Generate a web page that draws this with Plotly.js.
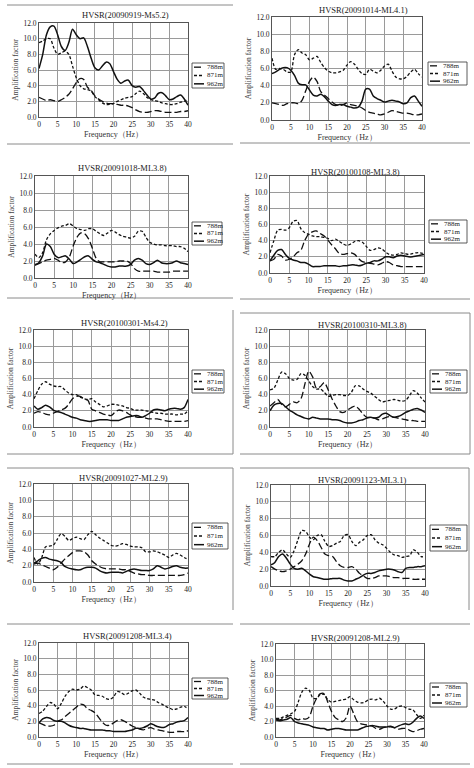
<!DOCTYPE html>
<html><head><meta charset="utf-8">
<script src="https://cdn.plot.ly/plotly-3.0.1.min.js"></script>
<style>html,body{margin:0;padding:0;background:#fff}#chart{width:474px;height:768px}</style>
</head><body><div id="chart"></div>
<script>
const freq = [0,1,2,3,4,5,6,7,8,9,10,11,12,13,14,15,16,17,18,19,20,21,22,23,24,25,26,27,28,29,30,31,32,33,34,35,36,37,38,39,40];
const seriesNames = ['788m','871m','962m'];
const titles = ['HVSR(20090919-Ms5.2)','HVSR(20091014-ML4.1)','HVSR(20091018-ML3.8)','HVSR(20100108-ML3.8)','HVSR(20100301-Ms4.2)','HVSR(20100310-ML3.8)','HVSR(20091027-ML2.9)','HVSR(20091123-ML3.1)','HVSR(20091208-ML3.4)','HVSR(20091208-ML2.9)'];
const xTickVals = [0,5,10,15,20,25,30,35,40];
const yTickVals = [0,2,4,6,8,10,12];

const p1_788 = [2.5,2.3,2.1,2.2,2.1,2.0,2.2,2.5,2.9,3.6,4.4,4.9,4.8,3.8,3.4,2.7,2.3,2.0,1.8,1.7,1.7,1.6,1.5,1.5,1.4,1.2,0.9,0.7,0.6,0.6,0.7,0.8,0.8,0.7,0.6,0.6,0.6,0.6,0.7,0.7,0.8];
const p1_871 = [9.5,9.7,10.0,10.0,8.8,8.0,8.2,8.4,8.0,6.5,5.0,4.0,3.6,3.5,3.3,2.6,2.2,1.8,1.6,1.6,1.7,2.0,2.2,2.4,2.5,2.6,3.0,3.3,3.0,2.5,2.2,2.1,2.0,1.8,1.7,1.6,1.6,1.7,1.9,2.0,2.3];
const p1_962 = [6.2,8.0,10.5,11.5,11.6,10.5,9.0,8.5,9.5,11.2,10.5,10.0,10.1,9.0,7.5,6.3,6.0,6.5,7.0,6.8,5.8,4.8,4.3,4.6,4.7,4.0,3.8,3.9,3.4,2.8,2.3,2.4,3.0,3.1,2.7,2.2,2.3,2.6,2.8,2.3,1.5];

const p2_788 = [2.0,1.9,1.8,1.7,1.9,2.0,2.0,1.9,2.3,3.4,4.5,5.0,4.5,3.3,2.9,2.5,2.1,1.8,1.7,1.8,2.0,1.8,1.7,1.6,1.4,1.1,0.9,0.8,0.7,0.6,0.7,0.9,1.1,1.0,0.9,0.8,0.8,0.7,0.6,0.6,0.7];
const p2_871 = [7.2,5.9,6.0,5.9,5.6,5.6,7.6,8.2,7.8,7.6,7.0,7.2,7.4,6.7,6.1,5.7,5.5,5.5,5.6,5.8,6.4,6.8,6.5,5.9,5.4,5.3,5.9,5.7,5.5,5.8,6.3,6.5,5.7,5.0,4.8,4.8,5.1,5.6,5.9,5.4,5.0];
const p2_962 = [5.4,5.6,5.9,6.1,6.1,5.8,5.2,4.3,4.1,4.1,3.5,2.9,2.8,3.0,2.7,2.2,1.8,1.7,1.8,1.8,1.6,1.5,1.4,1.5,2.2,3.6,3.6,2.8,2.5,2.3,2.1,2.2,2.3,2.2,2.1,1.9,2.0,2.6,2.8,2.2,1.6];

const p3_788 = [1.6,1.7,1.9,2.1,2.2,2.3,2.1,1.8,1.9,2.5,3.8,4.8,5.3,5.2,4.6,3.5,2.3,1.9,1.9,1.9,1.9,1.9,2.0,2.0,2.0,1.7,1.1,0.8,0.8,0.8,0.8,0.8,0.7,0.7,0.7,0.7,0.8,0.8,0.8,0.8,0.8];
const p3_871 = [2.8,2.4,3.0,4.5,5.2,5.6,5.9,6.1,6.2,6.4,6.1,5.8,5.7,5.6,5.8,5.8,5.5,5.2,5.0,5.3,5.6,5.4,5.1,4.9,4.8,4.7,4.9,5.5,5.5,4.8,4.2,4.0,3.9,3.9,3.8,3.8,3.8,3.7,3.7,3.5,3.1];
const p3_962 = [1.5,1.8,2.6,4.0,3.7,2.8,2.4,2.5,2.6,2.2,1.7,1.9,2.2,2.5,2.6,2.2,1.9,1.8,1.6,1.4,1.3,1.3,1.4,1.4,1.4,1.6,2.1,2.3,2.1,1.7,1.6,1.8,2.1,1.8,1.7,1.7,1.8,2.0,1.8,1.7,1.6];

const p4_788 = [1.5,1.7,2.3,2.1,1.6,1.7,2.0,2.5,2.8,4.0,4.8,5.1,5.2,4.9,4.6,4.1,3.5,3.0,2.4,2.3,2.4,2.5,2.3,1.8,1.4,1.3,1.2,1.1,1.0,1.2,1.4,1.3,1.0,0.9,0.8,0.8,0.8,0.8,0.8,0.8,0.8];
const p4_871 = [2.5,4.0,5.3,5.4,5.3,5.6,6.4,6.5,5.5,5.0,4.8,4.6,4.5,4.5,4.4,4.3,4.0,4.2,3.9,3.6,3.4,3.6,3.9,4.0,3.8,3.3,2.8,2.9,3.1,3.0,2.6,2.3,2.2,2.3,2.5,2.4,2.3,2.4,2.5,2.5,2.4];
const p4_962 = [1.5,2.2,2.8,2.9,2.3,1.8,1.6,1.5,1.3,1.3,1.1,0.8,0.8,0.8,0.9,0.9,0.9,0.9,0.8,0.9,0.9,1.0,1.0,0.9,1.0,1.2,1.3,1.5,1.5,1.7,2.0,2.0,1.9,2.1,2.2,2.1,2.0,2.0,2.1,2.2,2.3];

const p5_788 = [1.7,1.9,1.8,1.6,1.5,1.7,1.9,2.1,2.3,2.8,3.5,3.8,3.8,3.5,3.3,2.2,2.0,1.8,1.6,1.5,1.4,1.8,2.1,2.0,1.8,1.5,1.3,1.2,1.2,1.1,1.0,1.0,1.0,0.9,0.8,0.7,0.7,0.7,0.7,0.7,0.8];
const p5_871 = [3.5,4.5,5.3,5.6,5.3,5.1,5.0,5.0,4.6,4.2,4.0,4.0,3.7,3.5,3.4,3.5,3.1,2.8,2.5,2.6,2.8,2.8,2.7,2.6,2.4,2.3,2.1,2.1,2.1,2.0,1.9,1.8,1.7,1.7,1.6,1.6,1.6,1.5,1.6,1.6,2.0];
const p5_962 = [2.6,2.2,2.4,2.7,2.5,2.1,1.9,1.8,1.6,1.4,1.2,1.1,0.9,0.8,0.7,0.7,0.8,0.9,0.9,0.9,0.8,0.8,0.8,1.0,1.2,1.3,1.4,1.4,1.2,1.4,1.7,2.1,2.2,2.1,2.0,2.2,2.3,2.3,2.2,2.4,3.4];

const p6_788 = [2.6,3.0,3.4,2.8,2.5,2.8,3.1,3.0,3.5,5.3,6.9,6.2,4.8,5.0,5.5,4.6,3.5,2.6,1.9,1.8,2.1,2.4,2.6,2.2,1.6,1.2,1.2,1.1,0.9,1.0,1.2,1.3,1.2,1.1,1.0,0.9,0.8,0.8,0.7,0.7,0.7];
const p6_871 = [4.6,4.8,5.8,6.8,6.6,6.0,5.8,5.9,6.6,6.4,5.7,5.0,4.7,4.7,4.3,3.8,3.9,4.0,4.0,3.9,3.9,4.3,5.1,5.1,4.7,4.4,4.2,3.8,3.4,3.1,3.2,3.3,3.4,3.3,3.2,3.3,3.9,4.5,4.2,3.6,3.1];
const p6_962 = [2.0,2.7,2.9,2.9,2.5,2.1,1.8,1.5,1.3,1.1,1.0,1.2,1.1,1.0,1.0,1.0,0.9,0.9,0.8,0.6,0.5,0.5,0.6,0.8,0.9,1.1,1.2,1.1,1.2,1.6,1.7,1.4,1.2,1.3,1.5,1.8,2.0,2.2,2.3,2.1,1.8];

const p7_788 = [2.2,2.3,2.1,1.9,1.7,1.5,1.8,2.3,2.8,3.2,3.6,3.8,3.8,3.7,3.3,2.6,2.2,1.9,1.7,1.6,1.6,1.6,1.6,1.5,1.5,1.3,1.1,1.0,0.9,0.9,0.8,0.8,0.8,0.8,0.8,0.8,0.8,0.8,0.8,0.9,1.1];
const p7_871 = [3.0,2.2,3.0,4.3,4.4,4.5,5.2,5.9,5.6,5.1,5.3,5.5,5.3,5.2,5.8,6.2,5.8,5.4,5.1,4.8,4.5,4.4,4.5,4.7,4.6,4.4,4.3,4.3,4.2,3.7,3.7,3.8,3.7,3.5,3.3,3.0,3.3,3.5,3.3,3.0,2.8];
const p7_962 = [2.3,2.6,2.9,3.0,2.8,2.7,2.6,2.4,1.9,1.7,1.6,1.5,1.5,1.7,1.8,1.8,1.7,1.4,1.2,1.1,1.2,1.2,1.2,1.1,1.3,1.5,1.6,1.5,1.4,1.4,1.4,1.6,2.0,1.8,1.6,1.7,1.9,2.0,1.8,1.7,1.7];

const p8_788 = [2.3,2.0,1.8,1.7,1.8,2.0,2.3,2.6,3.0,3.8,5.0,5.8,5.4,4.6,3.8,3.6,3.5,2.9,2.4,2.2,2.2,2.3,2.0,1.5,1.2,0.9,0.9,1.0,1.2,1.2,1.2,1.1,1.0,1.0,0.9,0.9,0.9,0.8,0.8,0.8,0.8];
const p8_871 = [3.5,3.5,4.0,4.3,3.8,3.4,4.2,5.5,6.6,6.5,5.8,5.5,6.0,6.1,5.3,4.7,4.8,5.1,5.3,6.0,6.1,5.3,4.8,5.2,5.5,6.0,6.1,5.5,5.1,4.9,4.5,4.0,3.7,3.6,3.4,3.5,3.6,4.3,4.0,3.5,3.5];
const p8_962 = [2.5,2.8,3.5,3.8,3.3,2.6,2.1,2.0,2.1,1.8,1.4,1.1,1.0,0.9,0.8,0.8,0.9,0.9,0.9,0.7,0.6,0.6,0.8,1.0,1.3,1.5,1.5,1.6,1.8,1.9,2.0,2.0,1.9,1.7,1.6,2.1,2.2,2.2,2.3,2.3,2.4];

const p9_788 = [1.8,1.6,1.4,1.4,1.5,2.0,2.2,2.6,3.0,3.4,3.8,4.2,4.1,3.6,3.4,3.1,2.5,1.9,1.5,1.5,1.8,2.1,2.2,2.0,1.7,1.4,1.2,1.0,0.9,1.1,1.2,1.0,0.9,0.8,0.7,0.6,0.6,0.7,0.7,0.7,0.8];
const p9_871 = [3.0,3.3,3.9,4.4,4.2,3.6,4.3,5.2,5.8,6.1,6.0,6.1,6.5,6.3,6.0,5.4,5.3,5.2,4.9,4.8,5.1,5.8,5.7,5.4,5.6,5.9,6.0,5.6,5.1,4.9,4.8,4.7,4.4,4.2,3.9,3.7,3.5,3.6,3.8,3.9,3.6];
const p9_962 = [1.8,2.3,2.5,2.4,2.1,2.0,2.0,1.8,1.5,1.3,1.2,1.1,1.1,1.0,0.9,0.9,0.9,0.9,0.8,0.8,0.7,0.7,0.7,0.7,0.8,0.9,1.1,1.1,1.2,1.4,1.7,1.5,1.3,1.2,1.3,1.6,1.7,1.9,2.0,2.1,2.5];

const p10_788 = [2.3,2.2,2.4,2.6,2.8,2.4,2.2,2.4,2.3,2.6,4.0,5.0,5.6,5.6,4.5,3.3,2.5,2.2,2.0,2.5,4.0,3.0,2.0,1.7,1.6,1.5,1.4,1.1,1.0,1.2,1.3,1.3,1.2,1.0,1.1,1.1,0.9,0.7,0.8,1.0,1.1];
const p10_871 = [2.4,2.4,2.6,2.8,3.0,3.3,4.5,5.8,6.3,6.0,5.0,5.0,5.5,5.5,4.8,4.5,4.6,4.7,4.8,4.9,5.2,4.8,4.5,4.4,4.5,4.8,4.9,4.8,5.0,4.6,4.0,3.6,3.6,3.9,4.0,3.8,3.6,3.5,2.9,2.4,2.8];
const p10_962 = [2.2,2.1,2.2,2.3,2.5,2.0,1.8,1.7,1.6,1.5,1.3,1.2,1.1,1.1,0.9,1.0,1.1,1.1,1.0,0.9,0.9,0.9,0.9,1.1,1.3,1.4,1.5,1.4,1.3,1.3,1.3,1.4,1.2,1.4,1.6,1.7,1.6,1.9,2.4,2.7,2.4];

const panelSeries = [
  [p1_788,p1_871,p1_962],[p2_788,p2_871,p2_962],[p3_788,p3_871,p3_962],[p4_788,p4_871,p4_962],
  [p5_788,p5_871,p5_962],[p6_788,p6_871,p6_962],[p7_788,p7_871,p7_962],[p8_788,p8_871,p8_962],
  [p9_788,p9_871,p9_962],[p10_788,p10_871,p10_962]
];

// layout geometry in pixels: plot box [x0,x1,yTop,yBottom], title centre [x,y], legend box [x0,x1,y0,y1]
const W = 474, H = 768;
const boxes = [[39,188,23,117],[272,422,17,120],[35,188,176,278],[270,424,176,273],[34,188,330,427],
               [270,425,330,427],[34,188,484,582],[271,425,485,586],[39,188,643,737],[276,424,644,737]];
const titlePos = [[126,15],[363,10],[122,168],[355,172],[124,323],[362,325],[123,478],[362,480],[127,636],[355,638]];
const legBoxes = [[192,224,63,88],[428,467,62,85],[192,222,222,245],[429,467,220,243],[192,224,370,393],
                  [430,467,370,393],[192,228,523,549],[430,467,525,551],[192,228,678,699],[430,467,683,707]];
const frameLines = [[7,233,5,5],[7,233,144,144],[240,470,143,143],[7,233,298,298],[240,470,299,299],
                    [7,233,454,454],[233,233,310,454],[240,470,313,313],[240,470,454,454],[470,470,313,454],
                    [7,233,468,468],[233,233,468,610],[240,469,468,468],[469,469,468,610],
                    [7,233,624,624],[7,233,764,764],[240,470,624,624],[240,470,764,764]];

const FONT = '"Liberation Serif","Times New Roman",serif';
const styles = [
  {dash:'7px,3px', width:1.3},
  {dash:'3px,2px', width:1.3},
  {dash:'solid', width:1.5}
];
const px = v => v / W;
const py = v => 1 - v / H;

const traces = [];
const layout = {
  width: W, height: H, margin:{l:0,r:0,t:0,b:0}, showlegend:false,
  paper_bgcolor:'#fff', plot_bgcolor:'#fff', font:{family:FONT, color:'#222', size:7},
  shapes:[], annotations:[]
};

panelSeries.forEach((series, i) => {
  const n = i === 0 ? '' : String(i+1);
  const b = boxes[i];
  series.forEach((vals, k) => {
    traces.push({
      x: freq, y: vals, type:'scatter', mode:'lines', name: seriesNames[k],
      xaxis:'x'+n, yaxis:'y'+n, hoverinfo:'x+y+name',
      line:{color:'#111', width:styles[k].width, dash:styles[k].dash, shape:'spline', smoothing:0.8}
    });
  });
  layout['xaxis'+n] = {
    domain:[px(b[0]), px(b[1])], anchor:'y'+n, range:[0,40], tickvals:xTickVals,
    showgrid:true, gridcolor:'#9a9a9a', gridwidth:0.8, zeroline:false,
    showline:true, mirror:true, linecolor:'#555', linewidth:0.8, ticks:'',
    tickfont:{family:FONT, size:7.5, color:'#222'},
    title:{text:'Frequency（Hz）', font:{family:FONT, size:8, color:'#333'}, standoff:3}
  };
  layout['yaxis'+n] = {
    domain:[py(b[3]), py(b[2])], anchor:'x'+n, range:[0,12], tickvals:yTickVals, tickformat:'.1f',
    showgrid:true, gridcolor:'#9a9a9a', gridwidth:0.8, zeroline:false,
    showline:true, mirror:true, linecolor:'#555', linewidth:0.8, ticks:'',
    tickfont:{family:FONT, size:7.5, color:'#222'},
    title:{text:'Amplification factor', font:{family:FONT, size:7.5, color:'#444'}, standoff:3}
  };
  layout.annotations.push({
    xref:'paper', yref:'paper', x:px(titlePos[i][0]), y:py(titlePos[i][1]), text:titles[i],
    showarrow:false, xanchor:'center', yanchor:'middle', font:{family:FONT, size:8.5, color:'#222'}
  });
  // legend box
  const L = legBoxes[i];
  layout.shapes.push({type:'rect', xref:'paper', yref:'paper', x0:px(L[0]), x1:px(L[1]), y0:py(L[3]), y1:py(L[2]),
    line:{color:'#333', width:0.8}, fillcolor:'rgba(0,0,0,0)'});
  const rowH = (L[3]-L[2]) / 3;
  seriesNames.forEach((nm, k) => {
    const yy = L[2] + rowH*(k+0.5);
    layout.shapes.push({type:'line', xref:'paper', yref:'paper', x0:px(L[0]+2), x1:px(L[0]+12), y0:py(yy), y1:py(yy),
      line:{color:'#111', width:styles[k].width, dash:styles[k].dash}});
    layout.annotations.push({xref:'paper', yref:'paper', x:px(L[0]+12.5), y:py(yy), text:nm, showarrow:false,
      xanchor:'left', yanchor:'middle', font:{family:FONT, size:7, color:'#222'}});
  });
});

frameLines.forEach(f => {
  layout.shapes.push({type:'line', xref:'paper', yref:'paper', x0:px(f[0]), x1:px(f[1]), y0:py(f[2]), y1:py(f[3]),
    line:{color:'#8a8a8a', width:1}});
});

Plotly.newPlot('chart', traces, layout, {displayModeBar:false, staticPlot:false});
</script>
</body></html>
